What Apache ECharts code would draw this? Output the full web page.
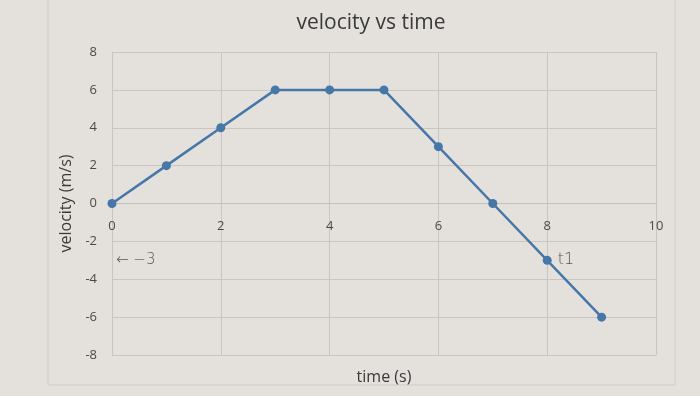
<!DOCTYPE html>
<html>
<head>
<meta charset="utf-8">
<script src="https://cdn.jsdelivr.net/npm/echarts@6/dist/echarts.min.js"></script>
<style>
html,body{margin:0;padding:0;background:#e4e1dd;}
#c{width:700px;height:396px;}
</style>
</head>
<body>
<div id="c"></div>
<script>
const timeValues = [0, 1, 2, 3, 4, 5, 6, 7, 8, 9];
const velocityValues = [0, 2, 4, 6, 6, 6, 3, 0, -3, -6];
const titleText = 'velocity vs time';
const xName = 'time (s)';
const yName = 'velocity (m/s)';
const annotT1Index = 8;
const annotMinus3 = -3;

const chart = echarts.init(document.getElementById('c'));
const data = timeValues.map((t, i) => {
  const item = { value: [t, velocityValues[i]] };
  if (i === annotT1Index) {
    item.label = { show: true, formatter: 't1', position: 'right', distance: 6,
      color: '#555', fontSize: 16, fontFamily: 'DejaVu Sans', fontWeight: 'lighter' };
  }
  return item;
});
const font = 'Open Sans';
chart.setOption({
  backgroundColor: '#e4e1dd',
  animation: false,
  title: {
    text: titleText, left: 366, top: 8, textAlign: 'center',
    textStyle: { color: '#3a3a3a', fontSize: 21, fontWeight: 'normal', fontFamily: font }
  },
  grid: { left: 112, right: 44, top: 52, bottom: 41, containLabel: false, outerBoundsMode: 'none' },
  xAxis: {
    type: 'value', min: 0, max: 10, interval: 2,
    name: xName, nameLocation: 'middle', nameGap: 20,
    nameTextStyle: { color: '#3a3a3a', fontSize: 16, fontFamily: font },
    axisLine: { show: true, onZero: false, lineStyle: { color: '#c4c1bd' } },
    axisTick: { show: false },
    axisLabel: { color: '#4a4a4a', fontSize: 13, fontFamily: font, margin: 16 },
    splitLine: { show: true, lineStyle: { color: '#c9c6c2' } }
  },
  yAxis: {
    type: 'value', min: -8, max: 8, interval: 2,
    name: yName, nameLocation: 'middle', nameGap: 34, nameRotate: 90,
    nameTextStyle: { color: '#3a3a3a', fontSize: 16, fontFamily: font },
    axisLine: { show: false },
    axisTick: { show: false },
    axisLabel: { color: '#4a4a4a', fontSize: 13, fontFamily: font, margin: 15 },
    splitLine: { show: true, lineStyle: { color: '#c9c6c2' } }
  },
  series: [{
    type: 'line', data: data,
    symbol: 'circle', symbolSize: 9,
    lineStyle: { color: '#4677a8', width: 2.5 },
    itemStyle: { color: '#4677a8' }
  }]
});
const pBottom = chart.convertToPixel({gridIndex:0}, [5, -8]);
const pZero = chart.convertToPixel({gridIndex:0}, [5, 0]);
const shift = pBottom[1] - pZero[1];
chart.setOption({ xAxis: { offset: -shift, nameGap: shift + 14 } });
const pm3 = chart.convertToPixel({gridIndex:0}, [0, annotMinus3]);
chart.setOption({
  graphic: [
    { type: 'rect', shape: { x: 48, y: -5, width: 627, height: 390 },
      style: { fill: 'none', stroke: '#cfccc8', lineWidth: 1 }, silent: true },
    { type: 'text', x: pm3[0] + 4, y: pm3[1], style: { text: '\u2190 \u2212' + Math.abs(annotMinus3),
      fill: '#555', font: 'lighter 15px DejaVu Sans', verticalAlign: 'middle' } }
  ]
});
</script>
</body>
</html>
